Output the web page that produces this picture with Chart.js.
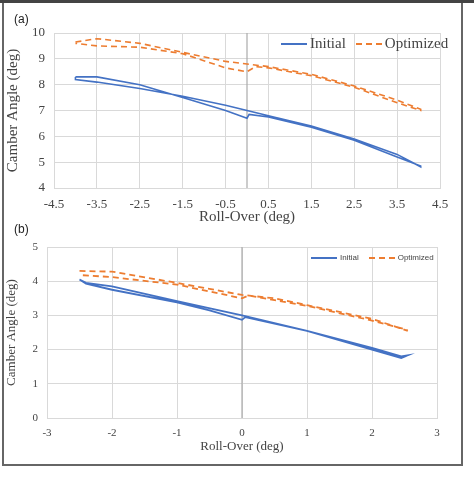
<!DOCTYPE html>
<html><head><meta charset="utf-8">
<script src="https://cdn.jsdelivr.net/npm/chart.js@4"></script>
<style>
body{margin:0;width:474px;height:484px;position:relative;background:#fff;overflow:hidden;font-family:"Liberation Serif",serif}
#bar{position:absolute;left:0;top:0;width:474px;height:3px;background:#444}
#frame{position:absolute;left:2px;top:3px;width:457px;height:461px;border:2px solid #666;border-top:none}
.c{position:absolute;left:0}
.lab{position:absolute;left:14px;font:12px "Liberation Sans",sans-serif;color:#222}
.leg{position:absolute;display:flex;align-items:center;color:#444;white-space:nowrap}
.sw{display:inline-block;height:0;margin-right:3px}
</style></head><body>
<div id="bar"></div><div id="frame"></div>
<div class="c" style="top:0"><canvas id="a" width="474" height="230"></canvas></div>
<div class="c" style="top:228px"><canvas id="b" width="474" height="240"></canvas></div>
<div class="lab" style="top:12px">(a)</div>
<div class="lab" style="top:222px">(b)</div>
<div class="leg" style="left:281px;top:35px;font:15px 'Liberation Serif',serif">
 <span class="sw" style="width:26px;border-top:2px solid #4472C4"></span>Initial
 <span class="sw" style="width:26px;border-top:2px dashed #ED7D31;margin-left:10px"></span>Optimized</div>
<div class="leg" style="left:311px;top:253px;font:8px 'Liberation Sans',sans-serif">
 <span class="sw" style="width:26px;border-top:2px solid #4472C4"></span>Initial
 <span class="sw" style="width:26px;border-top:2px dashed #ED7D31;margin-left:10px"></span>Optimized</div>
<script>
const aInitX=[-4,-3.5,-2.5,-1.5,-0.5,0,0.05,0.5,1.5,2.5,3.5,4.05,4.05,3.5,2.5,1.5,0.5,0,-0.5,-1.5,-2.5,-3.5,-4,-4];
const aInitY=[8.3,8.3,8.0,7.5,7.0,6.7,6.85,6.75,6.35,5.85,5.2,4.85,4.82,5.3,5.9,6.4,6.8,7.0,7.2,7.55,7.85,8.1,8.2,8.3];
const aOptX=[-4,-3.5,-2.5,-1.5,-0.5,0,0.5,1.5,2.5,3.5,4.05,4.05,3.5,2.5,1.5,0.5,0.2,0,-0.5,-1.5,-2.5,-3.5,-4];
const aOptY=[9.65,9.78,9.6,9.25,8.9,8.8,8.7,8.4,7.95,7.4,7.05,7.0,7.3,7.9,8.35,8.65,8.7,8.5,8.65,9.2,9.45,9.5,9.6];
const bInitX=[-2.5,-2.4,-2,-1,0,1,2,2.45,2.55,2.45,2,1,0.05,0,-0.5,-1,-2,-2.4,-2.5];
const bInitY=[4.05,3.95,3.85,3.42,3.0,2.55,2.05,1.8,1.83,1.75,2.0,2.55,2.95,2.87,3.15,3.38,3.75,3.93,4.05];
const bOptX=[-2.5,-2,-1,0,0.5,1,2,2.55,2.5,2,1,0.1,0,-1,-2,-2.5];
const bOptY=[4.3,4.28,3.95,3.6,3.5,3.3,2.9,2.55,2.6,2.85,3.28,3.58,3.5,3.9,4.12,4.18];
const pts=(xs,ys)=>xs.map((x,i)=>({x,y:ys[i]}));
const zero={id:'zero',beforeDatasetsDraw(c){const s=c.scales.x,a=c.chartArea,p=s.getPixelForValue(0),g=c.ctx;g.save();g.strokeStyle='#aaa';g.lineWidth=1.2;g.beginPath();g.moveTo(p,a.top);g.lineTo(p,a.bottom);g.stroke();g.restore();}};
function mk(id,d1,d2,xmin,xmax,xstep,ymin,ymax,ystep,pad,yw,xh,fs,lw,xpad){
 new Chart(document.getElementById(id),{type:'scatter',
 data:{datasets:[
  {data:d1,showLine:true,borderColor:'#4472C4',borderWidth:lw,pointRadius:0,tension:0},
  {data:d2,showLine:true,borderColor:'#ED7D31',borderWidth:lw,borderDash:[6,4],pointRadius:0,tension:0}]},
 options:{responsive:false,animation:false,layout:{padding:pad},
  plugins:{legend:{display:false},tooltip:{enabled:false}},
  scales:{
   x:{min:xmin,max:xmax,ticks:{stepSize:xstep,padding:xpad,color:'#444',font:{family:'Liberation Serif',size:fs}},
      grid:{color:'#d9d9d9',drawTicks:false},border:{color:'#d9d9d9'},
      title:{display:true,text:'Roll-Over (deg)',color:'#444',font:{family:'Liberation Serif',size:fs+2},padding:{top:2}},
      afterFit(s){s.height=xh;}},
   y:{min:ymin,max:ymax,ticks:{stepSize:ystep,padding:9,color:'#444',font:{family:'Liberation Serif',size:fs}},
      grid:{color:'#d9d9d9',drawTicks:false},border:{display:false},
      title:{display:true,text:'Camber Angle (deg)',color:'#444',font:{family:'Liberation Serif',size:fs+2}},
      afterFit(s){s.width=yw;}}}},
 plugins:[zero]});
}
mk('a',pts(aInitX,aInitY),pts(aOptX,aOptY),-4.5,4.5,1,4,10,1,{left:0,right:34,top:33,bottom:0},54,42,13,1.6,9);
mk('b',pts(bInitX,bInitY),pts(bOptX,bOptY),-3,3,1,0,5,1,{left:0,right:37,top:19,bottom:10},47,40,11,1.8,9);
</script></body></html>
